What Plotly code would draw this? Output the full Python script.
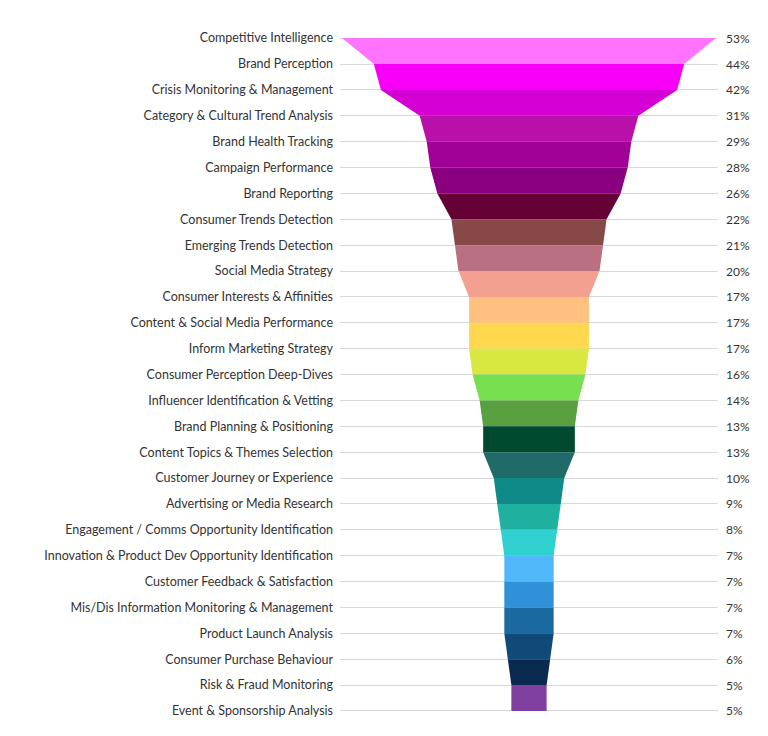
import plotly.graph_objects as go

categories = ["Competitive Intelligence","Brand Perception","Crisis Monitoring & Management",
"Category & Cultural Trend Analysis","Brand Health Tracking","Campaign Performance","Brand Reporting",
"Consumer Trends Detection","Emerging Trends Detection","Social Media Strategy",
"Consumer Interests & Affinities","Content & Social Media Performance","Inform Marketing Strategy",
"Consumer Perception Deep-Dives","Influencer Identification & Vetting","Brand Planning & Positioning",
"Content Topics & Themes Selection","Customer Journey or Experience","Advertising or Media Research",
"Engagement / Comms Opportunity Identification","Innovation & Product Dev Opportunity Identification",
"Customer Feedback & Satisfaction","Mis/Dis Information Monitoring & Management","Product Launch Analysis",
"Consumer Purchase Behaviour","Risk & Fraud Monitoring","Event & Sponsorship Analysis"]
values = [53,44,42,31,29,28,26,22,21,20,17,17,17,16,14,13,13,10,9,8,7,7,7,7,6,5,5]
band_colors = ["#ff73ff","#f800f8","#d400d4","#b810a8","#a00095","#880080","#650035",
"#874848","#b87082","#f4a090","#ffc080","#ffd850","#d8e840","#78e050","#58a040","#004a30",
"#206a68","#108a88","#20b0a0","#30d0d0","#50b8f8","#3090d8","#1a6aa0","#104a78","#0a2a50","#8040a0"]

fig = go.Figure()
n = len(values)
for i in range(n - 1):
    v, nxt = values[i], values[i + 1]
    fig.add_trace(go.Scatter(
        x=[-v/2, v/2, nxt/2, -nxt/2, -v/2], y=[i, i, i+1, i+1, i],
        fill="toself", fillcolor=band_colors[i], line=dict(width=0), mode="lines",
        hoverinfo="skip", showlegend=False))

for i, v in enumerate(values):
    fig.add_annotation(x=1, xref="paper", y=i, yref="y", text=f"{v}%", showarrow=False,
                       xanchor="left", xshift=6, font=dict(size=12, color="#333"))

fig.update_layout(
    width=768, height=736, paper_bgcolor="white", plot_bgcolor="white",
    margin=dict(l=332, r=58, t=12, b=18),
    font=dict(family="Lato, Open Sans, sans-serif", size=12.5, color="#333"),
    xaxis=dict(range=[-26.8, 26.8], visible=False),
    yaxis=dict(range=[26.58, -0.7], tickvals=list(range(n)), ticktext=categories,
               showgrid=True, gridcolor="#d8d8d8", zeroline=False, ticks="", ticklabelstandoff=6),
)
fig.write_html("out.html")
